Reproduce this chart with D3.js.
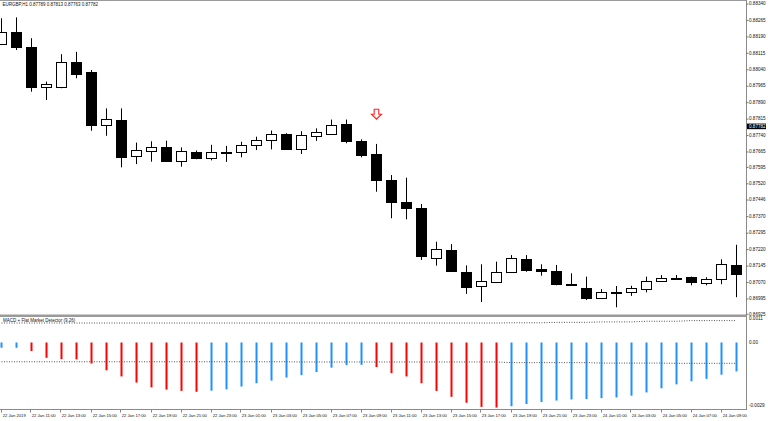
<!DOCTYPE html>
<html>
<head>
<meta charset="utf-8">
<script src="https://cdn.jsdelivr.net/npm/d3@7"></script>
<style>
  html, body { margin: 0; padding: 0; background: #fff; }
  svg { display: block; }
  text { font-family: "Liberation Sans", Arial, sans-serif; }
</style>
</head>
<body>
<svg id="chart" width="768" height="421"></svg>
<script>
// ---------- DATA ----------
const symbolTitle = "EURGBP,H1  0.87789 0.87813 0.87763 0.87782";
const indicatorTitle = "MACD + Flat Market Detector (9,26)";
const currentPrice = 0.87782;

const timeLabels = ["22 Jan 2019","22 Jan 11:00","22 Jan 13:00","22 Jan 15:00","22 Jan 17:00","22 Jan 19:00",
  "22 Jan 21:00","22 Jan 23:00","23 Jan 01:00","23 Jan 03:00","23 Jan 05:00","23 Jan 07:00","23 Jan 09:00",
  "23 Jan 11:00","23 Jan 13:00","23 Jan 15:00","23 Jan 17:00","23 Jan 19:00","23 Jan 21:00","23 Jan 23:00",
  "24 Jan 01:00","24 Jan 03:00","24 Jan 05:00","24 Jan 07:00","24 Jan 09:00"];

const priceLabels = ["0.88340","0.88265","0.88190","0.88115","0.88040","0.87965","0.87890","0.87815","0.87740",
  "0.87665","0.87595","0.87520","0.87446","0.87370","0.87295","0.87220","0.87145","0.87070","0.86995","0.86925"];

const macdLabels = ["0.0011","0.00","-0.0029"];

const open  = [0.88161,0.88214,0.88143,0.87960,0.87963,0.88077,0.88029,0.87788,0.87811,0.87645,
               0.87670,0.87689,0.87625,0.87665,0.87636,0.87659,0.87665,0.87697,0.87720,0.87749,
               0.87677,0.87738,0.87750,0.87793,0.87717,0.87656,0.87537,0.87439,0.87408,0.87183,
               0.87218,0.87120,0.87052,0.87074,0.87115,0.87177,0.87132,0.87123,0.87064,0.87044,
               0.86998,0.87024,0.87028,0.87040,0.87078,0.87092,0.87094,0.87066,0.87085,0.87151];
const high  = [0.88275,0.88279,0.88184,0.87986,0.88111,0.88122,0.88039,0.87864,0.87864,0.87708,
               0.87714,0.87717,0.87686,0.87672,0.87698,0.87693,0.87712,0.87735,0.87763,0.87751,
               0.87760,0.87773,0.87813,0.87813,0.87723,0.87702,0.87560,0.87548,0.87428,0.87256,
               0.87245,0.87148,0.87153,0.87165,0.87195,0.87195,0.87153,0.87150,0.87112,0.87097,
               0.87040,0.87054,0.87055,0.87097,0.87104,0.87104,0.87097,0.87094,0.87176,0.87242];
const low   = [0.88153,0.88130,0.87940,0.87902,0.87956,0.88001,0.87762,0.87739,0.87595,0.87610,
               0.87621,0.87621,0.87598,0.87632,0.87627,0.87620,0.87641,0.87674,0.87677,0.87677,
               0.87656,0.87716,0.87749,0.87705,0.87641,0.87484,0.87363,0.87358,0.87173,0.87147,
               0.87120,0.87018,0.86981,0.87072,0.87113,0.87119,0.87101,0.87057,0.87060,0.86990,
               0.86996,0.86957,0.87009,0.87025,0.87077,0.87085,0.87057,0.87057,0.87062,0.87003];
const close = [0.88214,0.88145,0.87960,0.87974,0.88077,0.88024,0.87788,0.87814,0.87644,0.87672,
               0.87689,0.87623,0.87670,0.87638,0.87663,0.87663,0.87698,0.87720,0.87749,0.87679,
               0.87743,0.87755,0.87790,0.87716,0.87655,0.87537,0.87436,0.87411,0.87188,0.87223,
               0.87123,0.87053,0.87075,0.87119,0.87180,0.87127,0.87123,0.87063,0.87061,0.86998,
               0.87025,0.87028,0.87044,0.87078,0.87092,0.87087,0.87071,0.87085,0.87154,0.87110];

// MACD histogram values and rising/falling state
const macdHist = [-0.00024,-0.00024,-0.00039,-0.00070,-0.00076,-0.00077,-0.00096,-0.00127,-0.00155,-0.00183,
                  -0.00205,-0.00215,-0.00221,-0.00225,-0.00220,-0.00214,-0.00201,-0.00186,-0.00174,-0.00160,
                  -0.00149,-0.00135,-0.00115,-0.00103,-0.00102,-0.00112,-0.00140,-0.00155,-0.00186,-0.00221,
                  -0.00248,-0.00275,-0.00294,-0.00297,-0.00291,-0.00281,-0.00272,-0.00265,-0.00260,-0.00258,
                  -0.00254,-0.00251,-0.00243,-0.00228,-0.00209,-0.00191,-0.00177,-0.00166,-0.00147,-0.00132];
const macdState = ["up","up","dn","dn","dn","dn","dn","dn","dn","dn",
                   "dn","dn","dn","dn","up","up","up","up","up","up",
                   "up","up","up","up","up","dn","dn","dn","dn","dn",
                   "dn","dn","dn","dn","up","up","up","up","up","up",
                   "up","up","up","up","up","up","up","up","up","up"];
const upperLevel = [0.00089,0.00089,0.00089,0.00089,0.00089,0.00089,0.00089,0.00089,0.00089,0.00089,
                    0.00089,0.00089,0.00089,0.00089,0.00089,0.00089,0.00089,0.00089,0.00089,0.00089,
                    0.00089,0.00089,0.00089,0.00089,0.00089,0.00089,0.00089,0.00089,0.00089,0.00089,
                    0.00089,0.00089,0.00089,0.00089,0.00090,0.00090,0.00090,0.00092,0.00092,0.00092,
                    0.00094,0.00094,0.00094,0.00097,0.00097,0.00097,0.00100,0.00100,0.00100,0.00100];
const lowerLevel = [-0.00088,-0.00088,-0.00088,-0.00088,-0.00088,-0.00088,-0.00088,-0.00088,-0.00088,-0.00088,
                    -0.00088,-0.00088,-0.00088,-0.00088,-0.00088,-0.00088,-0.00088,-0.00088,-0.00088,-0.00088,
                    -0.00089,-0.00089,-0.00089,-0.00089,-0.00089,-0.00089,-0.00089,-0.00089,-0.00089,-0.00089,
                    -0.00089,-0.00089,-0.00089,-0.00089,-0.00092,-0.00092,-0.00092,-0.00092,-0.00092,-0.00092,
                    -0.00094,-0.00094,-0.00094,-0.00094,-0.00094,-0.00095,-0.00095,-0.00095,-0.00095,-0.00095];

// sell signal arrow
const signalIndex = 25;
const signalPrice = 0.87860;

// ---------- DRAW ----------
const svg = d3.select("#chart");
const axisX = 746.5;
const priceTop = 4, priceBottom = 314.3;
const n = open.length;

const x = d3.scaleLinear().domain([0, n - 1]).range([1.5, 736.5]);
const yP = d3.scaleLinear().domain([0.86925, 0.88340]).range([priceBottom, priceTop]);
const yM = d3.scaleLinear().domain([0, 0.001]).range([342.5, 320.6]);

// frame
svg.append("line").attr("x1", 0).attr("x2", axisX).attr("y1", 0.5).attr("y2", 0.5)
  .attr("stroke", "#9a9a9a").attr("stroke-width", 1);
svg.append("line").attr("x1", axisX).attr("x2", axisX).attr("y1", 0).attr("y2", 410)
  .attr("stroke", "#8a8a8a").attr("stroke-width", 1);
svg.append("rect").attr("x", 0).attr("y", 314.5).attr("width", axisX).attr("height", 2.5)
  .attr("fill", "#9a9a9a");
svg.append("line").attr("x1", 0).attr("x2", axisX).attr("y1", 409.5).attr("y2", 409.5)
  .attr("stroke", "#8a8a8a").attr("stroke-width", 1);

// header texts
svg.append("text").attr("x", 2.5).attr("y", 5).attr("dominant-baseline", "middle")
  .attr("font-size", 4.5).attr("fill", "#111").text(symbolTitle);
svg.append("text").attr("x", 3).attr("y", 320.8).attr("dominant-baseline", "middle")
  .attr("font-size", 4.5).attr("fill", "#111").text(indicatorTitle);

// price axis labels
const pa = svg.append("g");
priceLabels.forEach(l => {
  const yy = yP(+l);
  pa.append("line").attr("x1", axisX).attr("x2", axisX + 2).attr("y1", yy).attr("y2", yy)
    .attr("stroke", "#555").attr("stroke-width", 0.8);
  pa.append("text").attr("x", 749).attr("y", yy).attr("dominant-baseline", "middle")
    .attr("font-size", 4.6).attr("fill", "#111").text(l);
});
// current price box
const cy = yP(currentPrice);
pa.append("rect").attr("x", axisX + 0.5).attr("y", cy - 2.8).attr("width", 19).attr("height", 5.6).attr("fill", "#000");
pa.append("text").attr("x", 749).attr("y", cy).attr("dominant-baseline", "middle")
  .attr("font-size", 4.6).attr("fill", "#fff").text(currentPrice.toFixed(5));

// macd axis labels
macdLabels.forEach(l => {
  const yy = yM(+l);
  pa.append("text").attr("x", 749).attr("y", yy).attr("dominant-baseline", "middle")
    .attr("font-size", 4.6).attr("fill", "#111").text(l);
});

// time axis
const ta = svg.append("g");
timeLabels.forEach((l, k) => {
  const xx = Math.round(x(k * 2)) - 0.5;
  ta.append("line").attr("x1", xx).attr("x2", xx).attr("y1", 410).attr("y2", 412.5)
    .attr("stroke", "#666").attr("stroke-width", 0.8);
  ta.append("text").attr("x", xx + 1.2).attr("y", 416.2).attr("dominant-baseline", "middle")
    .attr("font-size", 4.2).attr("fill", "#111").text(l);
});

// candles
const idx = d3.range(n);
const cg = svg.append("g");
cg.selectAll("line.wick").data(idx).join("line")
  .attr("x1", i => x(i)).attr("x2", i => x(i))
  .attr("y1", i => yP(high[i])).attr("y2", i => yP(low[i]))
  .attr("stroke", "#000").attr("stroke-width", 1);
cg.selectAll("rect.body").data(idx).join("rect")
  .attr("x", i => x(i) - 5).attr("width", 10)
  .attr("y", i => Math.round(yP(Math.max(open[i], close[i]))) + 0.5)
  .attr("height", i => Math.max(1, Math.round(yP(Math.min(open[i], close[i])) - yP(Math.max(open[i], close[i])))))
  .attr("fill", i => close[i] >= open[i] ? "#fff" : "#000")
  .attr("stroke", "#000").attr("stroke-width", 1);

// signal arrow (hollow red down arrow)
const ax = x(signalIndex), ay = yP(signalPrice);
const arrow = d3.path();
arrow.moveTo(ax - 2.3, ay); arrow.lineTo(ax + 2.3, ay); arrow.lineTo(ax + 2.3, ay + 5);
arrow.lineTo(ax + 5, ay + 5); arrow.lineTo(ax, ay + 10); arrow.lineTo(ax - 5, ay + 5);
arrow.lineTo(ax - 2.3, ay + 5); arrow.closePath();
svg.append("path").attr("d", arrow.toString()).attr("fill", "#fff")
  .attr("stroke", "#ff2020").attr("stroke-width", 1.1).attr("stroke-linejoin", "miter");

// MACD histogram
const mg = svg.append("g");
mg.selectAll("line.hist").data(idx).join("line")
  .attr("x1", i => x(i)).attr("x2", i => x(i))
  .attr("y1", yM(0)).attr("y2", i => yM(macdHist[i]))
  .attr("stroke", i => macdState[i] === "up" ? "#1e90ff" : "#ff0000")
  .attr("stroke-width", 2);

// level lines (dotted)
const lineGen = arr => d3.line().x(i => x(i)).y(i => yM(arr[i]))(idx);
mg.append("path").attr("d", lineGen(upperLevel)).attr("fill", "none")
  .attr("stroke", "#555").attr("stroke-width", 1).attr("stroke-dasharray", "1,1.5");
mg.append("path").attr("d", lineGen(lowerLevel)).attr("fill", "none")
  .attr("stroke", "#555").attr("stroke-width", 1).attr("stroke-dasharray", "1,1.5");
</script>
</body>
</html>
